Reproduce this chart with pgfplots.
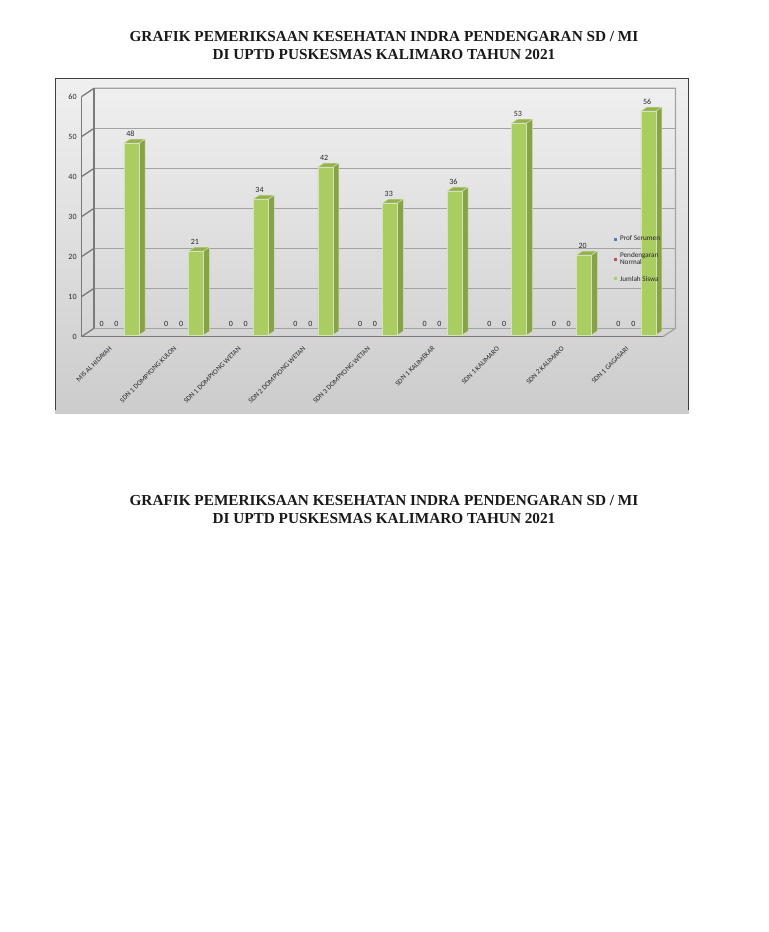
\documentclass[border=0pt]{standalone}
\usepackage{pgfplots}
\pgfplotsset{compat=1.18}
\usepackage{fontspec}
\setmainfont{Carlito}
\newfontfamily\ttl{Liberation Serif}
\definecolor{gridc}{HTML}{A3A3A3}
\definecolor{axc}{HTML}{7A7A7A}
\definecolor{barf}{HTML}{A9CD60}
\definecolor{bars}{HTML}{86A347}
\definecolor{bart}{HTML}{93B24F}
\definecolor{bare}{HTML}{D6E3B8}
\definecolor{txt}{HTML}{262626}
\definecolor{legb}{HTML}{4F81BD}
\definecolor{legr}{HTML}{C0504D}
\newcommand\barfaces[3]{%
 \pgfmathsetmacro\xR{#1+0.390}\pgfmathsetmacro\xD{#1+0.483}\pgfmathsetmacro\xL{#1+0.158}\pgfmathsetmacro\xM{#1+0.251}%
 \addplot[fill=bars,draw=bare,line width=0.3pt,yshift=1.2pt,forget plot] coordinates {(\xR,0) (\xD,1) (\xD,#3) (\xR,#2)} --cycle;
 \addplot[fill=bart,draw=bare,line width=0.3pt,yshift=1.2pt,forget plot] coordinates {(\xL,#2) (\xM,#3) (\xD,#3) (\xR,#2)} --cycle;
}
\begin{document}
\begin{tikzpicture}[x=0.75pt,y=0.75pt]
\path[use as bounding box] (0,0) rectangle (768,932);
\fill[white] (0,0) rectangle (768,932);
\node[font=\ttl\bfseries\fontsize{11.45pt}{13pt}\selectfont,text=black!90,align=center] at (384,886.5) {GRAFIK PEMERIKSAAN KESEHATAN INDRA PENDENGARAN SD / MI\\[0.6pt]DI UPTD PUSKESMAS KALIMARO TAHUN 2021};
\node[font=\ttl\bfseries\fontsize{11.45pt}{13pt}\selectfont,text=black!90,align=center] at (384,422.5) {GRAFIK PEMERIKSAAN KESEHATAN INDRA PENDENGARAN SD / MI\\[0.6pt]DI UPTD PUSKESMAS KALIMARO TAHUN 2021};
\shade[top color=black!6,bottom color=black!20] (55,853) rectangle (689,518);
\draw[black!75,line width=0.75pt] (55,522) -- (55,853) -- (688,853) -- (688,522);
\begin{axis}[
  at={(61.125pt,446.475pt)},anchor=south west,scale only axis,
  width=436.1pt,height=180pt,
  xmin=-0.5,xmax=8.5,ymin=0,ymax=60,clip=false,
  axis x line=bottom,axis y line=left,
  axis line style={-,draw=axc,line width=1.2pt},
  xtick={0,...,8},
  xticklabels={MIS AL HIDAYAH,SDN 1 DOMPYONG KULON,SDN 1 DOMPYONG WETAN,SDN 2 DOMPYONG WETAN,SDN 3 DOMPYONG WETAN,SDN 1 KALIMEKAR,SDN 1 KALIMARO,SDN 2 KALIMARO,SDN 1 GAGASARI},
  ytick={0,10,...,60},
  major tick length=0pt,
  /pgf/number format/assume math mode=true,
  x tick label style={rotate=45,anchor=north east,font=\fontsize{5.3pt}{6pt}\selectfont,text=txt,inner sep=0pt,yshift=-2.1pt,xshift=-7.3pt},
  y tick label style={font=\fontsize{6pt}{6pt}\selectfont,text=txt,inner sep=0pt,xshift=-3.5pt},
  legend style={at={(0.9157,0.432)},anchor=north west,draw=none,fill=none,inner sep=0pt,font=\fontsize{5.4pt}{5.6pt}\selectfont,text=txt,row sep=3.2pt,cells={align=left}},
  legend cell align=left,
  legend image code/.code={\fill[#1,draw=none,yshift=0pt] (0pt,-1.1pt) rectangle (2.4pt,1.2pt);},
]
% back wall, floor and side wall
\addplot[gridc,line width=1pt,forget plot] coordinates {(-0.3065,62.1) (8.6935,62.1) (8.6935,2.1) (8.5,0)};
\addplot[gridc,line width=1pt,forget plot] coordinates {(-0.3065,2.1) (8.6935,2.1)};
\addplot[gridc,line width=1pt,forget plot] coordinates {(-0.3065,12.1) (8.6935,12.1)};
\addplot[gridc,line width=1pt,forget plot] coordinates {(-0.3065,22.1) (8.6935,22.1)};
\addplot[gridc,line width=1pt,forget plot] coordinates {(-0.3065,32.1) (8.6935,32.1)};
\addplot[gridc,line width=1pt,forget plot] coordinates {(-0.3065,42.1) (8.6935,42.1)};
\addplot[gridc,line width=1pt,forget plot] coordinates {(-0.3065,52.1) (8.6935,52.1)};
\addplot[axc,line width=1pt,forget plot] coordinates {(-0.3065,2.1) (-0.3065,62.1)};
\addplot[axc,line width=1pt,forget plot] coordinates {(-0.5,0) (-0.3065,2.1)};
\addplot[axc,line width=1pt,forget plot] coordinates {(-0.5,10) (-0.3065,12.1)};
\addplot[axc,line width=1pt,forget plot] coordinates {(-0.5,20) (-0.3065,22.1)};
\addplot[axc,line width=1pt,forget plot] coordinates {(-0.5,30) (-0.3065,32.1)};
\addplot[axc,line width=1pt,forget plot] coordinates {(-0.5,40) (-0.3065,42.1)};
\addplot[axc,line width=1pt,forget plot] coordinates {(-0.5,50) (-0.3065,52.1)};
\addplot[axc,line width=1pt,forget plot] coordinates {(-0.5,60) (-0.3065,62.1)};
% series with zero values
\addplot[ybar,bar width=11.25pt,bar shift=-9.2pt,fill=legb,draw=none,
  nodes near coords,nodes near coords style={font=\fontsize{6pt}{6pt}\selectfont,text=txt,inner sep=0pt,yshift=7.5pt,xshift=-9.1pt}]
  coordinates {(0,0) (1,0) (2,0) (3,0) (4,0) (5,0) (6,0) (7,0) (8,0)};
\addlegendentry{Prof Serumen}
\addplot[ybar,bar width=11.25pt,bar shift=2pt,fill=legr,draw=none,
  nodes near coords,nodes near coords style={font=\fontsize{6pt}{6pt}\selectfont,text=txt,inner sep=0pt,yshift=7.5pt,xshift=2pt}]
  coordinates {(0,0) (1,0) (2,0) (3,0) (4,0) (5,0) (6,0) (7,0) (8,0)};
\addlegendentry{Pendengaran\\Normal}
% side and top faces of the bars
\barfaces{0}{48}{49}
\barfaces{1}{21}{22}
\barfaces{2}{34}{35}
\barfaces{3}{42}{43}
\barfaces{4}{33}{34}
\barfaces{5}{36}{37}
\barfaces{6}{53}{54}
\barfaces{7}{20}{21}
\barfaces{8}{56}{57}
% front faces
\addplot[ybar,bar width=11.25pt,bar shift=13.3pt,fill=barf,draw=bare,line width=0.45pt,yshift=1.2pt,
  nodes near coords,nodes near coords style={font=\fontsize{6pt}{6pt}\selectfont,text=txt,inner sep=0pt,yshift=4.6pt,xshift=12.4pt}]
  coordinates {(0,48) (1,21) (2,34) (3,42) (4,33) (5,36) (6,53) (7,20) (8,56)};
\addlegendentry{Jumlah Siswa}
\end{axis}
\end{tikzpicture}
\end{document}
